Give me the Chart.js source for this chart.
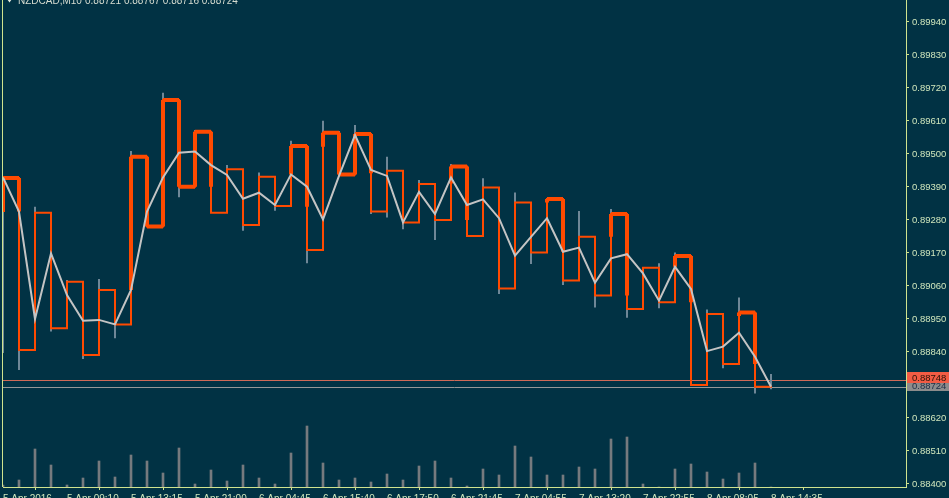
<!DOCTYPE html>
<html>
<head>
<meta charset="utf-8">
<script src="https://cdn.jsdelivr.net/npm/chart.js@4.4.1/dist/chart.umd.min.js"></script>
<style>
    html, body { margin: 0; padding: 0; background: #013244; overflow: hidden; }
</style>
</head>
<body>
<canvas id="chart" width="949" height="498"></canvas>
<script>
'use strict';

// Symbol header
const symbolTitle = 'NZDCAD,M10';
const lastBarOHLC = [0.88721, 0.88767, 0.88716, 0.88724];

// Price levels of the ask / bid lines
const askPrice = 0.88748;
const bidPrice = 0.88724;

// Axis ticks
const priceTicks = [0.884, 0.8851, 0.8862, 0.8873, 0.8884, 0.8895, 0.8906, 0.8917,
    0.8928, 0.8939, 0.895, 0.8961, 0.8972, 0.8983, 0.8994];
const timeTickIdx = [0, 4, 8, 12, 16, 20, 24, 28, 32, 36, 40, 44, 48];
const timeLabels = ['5 Apr 2016', '5 Apr 09:10', '5 Apr 13:15', '5 Apr 21:00', '6 Apr 04:45',
    '6 Apr 15:40', '6 Apr 17:50', '6 Apr 21:45', '7 Apr 04:55', '7 Apr 13:20',
    '7 Apr 22:55', '8 Apr 08:05', '8 Apr 14:35'];

// Close line (gray)
const closes = [0.89422, 0.89308, 0.8895, 0.89169, 0.8903, 0.88944, 0.88947, 0.88932, 0.89047, 0.89308,
    0.89422, 0.89504, 0.89508, 0.89463, 0.8943, 0.89351, 0.89371, 0.8933, 0.89432, 0.89391,
    0.89282, 0.89427, 0.89563, 0.89447, 0.89427, 0.89272, 0.89374, 0.893, 0.89422, 0.8933,
    0.89349, 0.89286, 0.89161, 0.89224, 0.89286, 0.89174, 0.89188, 0.89071, 0.89152, 0.89166,
    0.89102, 0.89011, 0.89124, 0.8905, 0.88843, 0.88858, 0.88904, 0.88824, 0.88724];

// Orange step levels (last one = open of the last bar)
const stepLevels = [0.8942, 0.88847, 0.89304, 0.88919, 0.89074, 0.8883, 0.89047, 0.88932, 0.89491, 0.89258,
    0.8968, 0.89391, 0.89574, 0.89304, 0.89449, 0.89263, 0.89424, 0.89327, 0.89527, 0.8918,
    0.89571, 0.89432, 0.89567, 0.89308, 0.89444, 0.89272, 0.894, 0.8928, 0.89458, 0.89227,
    0.89388, 0.89052, 0.89338, 0.89172, 0.8935, 0.89078, 0.89224, 0.89028, 0.893, 0.88983,
    0.89121, 0.89006, 0.8916, 0.8873, 0.88967, 0.888, 0.88972, 0.88724, 0.88721];

// Thick orange parts (top / bottom per bar)
const thickHigh = [0.8942, 0.8942, null, null, null, null, null, null, 0.89491, 0.89491,
    0.8968, 0.8968, 0.89574, 0.89574, null, null, null, null, 0.89527, 0.89527,
    0.89571, 0.89571, 0.89567, 0.89567, null, null, null, null, 0.89458, 0.89458,
    null, null, null, null, 0.8935, 0.8935, null, null, 0.893, 0.893,
    null, null, 0.8916, 0.8916, null, null, 0.88972, 0.88972, null];
const thickLow = [0.89307, 0.89308, null, null, null, null, null, null, 0.89047, 0.89258,
    0.89258, 0.89391, 0.89391, 0.89391, null, null, null, null, 0.89432, 0.89324,
    0.89524, 0.89432, 0.89432, 0.89436, null, null, null, null, 0.89402, 0.8928,
    null, null, null, null, 0.89338, 0.89174, null, null, 0.89224, 0.89028,
    null, null, 0.89124, 0.89006, null, null, 0.8896, 0.888, null];

// Gray wicks
const wickHigh = [0.8942, 0.8942, 0.89324, 0.89304, 0.8908, 0.89074, 0.89083, 0.89047, 0.8951, null,
    0.89704, 0.8968, 0.8958, null, 0.89463, 0.89449, 0.89438, 0.89424, 0.89544, 0.89527,
    0.89611, 0.89577, 0.89597, 0.89567, 0.89491, 0.89444, 0.89413, 0.894, 0.89467, null,
    0.89419, 0.89388, 0.89372, 0.89338, null, 0.8935, 0.8931, 0.89224, 0.89317, 0.893,
    null, 0.89136, 0.89172, null, 0.88982, 0.88967, 0.89022, 0.88972, 0.88767];
const wickLow = [0.88837, 0.8878, 0.88847, 0.88908, 0.88919, 0.88817, 0.8883, 0.88886, 0.88932, null,
    0.89258, 0.89356, 0.89391, null, 0.89304, 0.89244, 0.89263, 0.89311, 0.89327, 0.89136,
    0.8918, 0.89432, 0.89432, 0.893, 0.89288, 0.89249, 0.89272, 0.89213, 0.8928, null,
    0.89227, 0.89033, 0.89052, 0.89133, null, 0.89063, 0.89078, 0.88988, 0.89028, 0.88954,
    null, 0.88986, 0.89006, null, 0.8873, 0.88786, 0.888, 0.88702, 0.88716];

// Tick volumes
const volumes = [8, 28, 152, 88, 8, 36, 104, 40, 128, 104, 56, 156, 12, 68, 24, 88, 36, 12, 136, 244,
    96, 28, 36, 20, 52, 28, 84, 104, 36, 4, 72, 48, 164, 120, 48, 48, 80, 72, 192, 200,
    12, 0, 72, 92, 60, 32, 56, 96, 0];

const BG = '#013244';
const AXIS = '#cfe38e';
const TEXT = '#cfe6bc';
const ORANGE = '#ff4a00';
const FONT = 'Liberation Sans';

// Vertical segments separated by gaps
function verticals(hi, lo) {
    const out = [];
    hi.forEach((h, k) => {
        if (h === null || lo[k] === null) return;
        out.push({ x: k, y: h }, { x: k, y: lo[k] }, { x: k, y: null });
    });
    return out;
}

// Thick tops/bottoms: level covered by thick parts on both sides
function thickLevels() {
    const out = [];
    const inside = (v, k) => thickHigh[k] !== null && v <= thickHigh[k] + 2e-5 && v >= thickLow[k] - 2e-5;
    for (let k = 0; k < stepLevels.length - 1; k++) {
        const v = stepLevels[k];
        if (inside(v, k) && inside(v, k + 1)) {
            out.push({ x: k, y: v }, { x: k + 1, y: v }, { x: k, y: null });
        }
    }
    return out;
}

const backgroundPlugin = {
    id: 'bg',
    beforeDraw: (chart) => {
        const ctx = chart.ctx;
        ctx.save();
        ctx.fillStyle = BG;
        ctx.fillRect(0, 0, chart.width, chart.height);
        ctx.restore();
    },
    beforeDatasetsDraw: (chart) => {
        // ask / bid lines
        const ctx = chart.ctx;
        const y = chart.scales.y;
        const area = chart.chartArea;
        ctx.save();
        ctx.lineWidth = 1;
        [[askPrice, '#cf6a58'], [bidPrice, '#979797']].forEach(([p, c]) => {
            const py = Math.round(y.getPixelForValue(p)) + 0.5;
            ctx.strokeStyle = c;
            ctx.beginPath();
            ctx.moveTo(area.left, py);
            ctx.lineTo(area.right, py);
            ctx.stroke();
        });
        ctx.restore();
    },
    afterDraw: (chart) => {
        const ctx = chart.ctx;
        const y = chart.scales.y;
        const area = chart.chartArea;
        ctx.save();

        // left frame line
        ctx.strokeStyle = AXIS;
        ctx.lineWidth = 1;
        ctx.beginPath();
        ctx.moveTo(2.5, 0);
        ctx.lineTo(2.5, area.bottom);
        ctx.stroke();

        // price boxes
        ctx.font = `9.5px "${FONT}"`;
        ctx.textBaseline = 'middle';
        ctx.textAlign = 'left';
        const w = chart.width - area.right - 1;
        const askY = Math.round(y.getPixelForValue(askPrice));
        const bidY = Math.round(y.getPixelForValue(bidPrice));
        ctx.fillStyle = '#f25c44';
        ctx.fillRect(area.right + 1, askY - 8, w, 11);
        ctx.fillStyle = '#2a1208';
        ctx.fillText(askPrice.toFixed(5), area.right + 6, askY - 2);
        ctx.fillStyle = '#8c8c8c';
        ctx.fillRect(area.right + 1, bidY - 4, w, 8);
        ctx.fillStyle = '#1c2c44';
        ctx.fillText(bidPrice.toFixed(5), area.right + 6, bidY - 0.5);

        // header
        ctx.fillStyle = '#e8ece0';
        ctx.beginPath();
        ctx.moveTo(7, -1);
        ctx.lineTo(12, -1);
        ctx.lineTo(9.5, 2.5);
        ctx.closePath();
        ctx.fill();
        ctx.fillStyle = '#d6dcd0';
        ctx.font = `10px "${FONT}"`;
        ctx.textBaseline = 'alphabetic';
        ctx.fillText(symbolTitle, 18, 4);
        ctx.fillText(lastBarOHLC.map(v => v.toFixed(5)).join(' '), 85, 4);
        ctx.restore();
    }
};

const ctx = document.getElementById('chart').getContext('2d');
new Chart(ctx, {
    type: 'line',
    data: {
        datasets: [
            {
                // close line
                data: closes.map((v, k) => ({ x: k, y: v })),
                borderColor: '#c4c4c4',
                borderWidth: 2,
                pointRadius: 0,
                tension: 0,
                order: 0
            },
            {
                // thick verticals
                data: verticals(thickHigh, thickLow),
                borderColor: ORANGE,
                borderWidth: 4,
                pointRadius: 0,
                spanGaps: false,
                clip: 0,
                order: 1
            },
            {
                // thick horizontals
                data: thickLevels(),
                borderColor: ORANGE,
                borderWidth: 4,
                pointRadius: 0,
                spanGaps: false,
                clip: 0,
                order: 1
            },
            {
                // thin orange steps
                data: stepLevels.map((v, k) => ({ x: k, y: v })),
                borderColor: ORANGE,
                borderWidth: 2,
                pointRadius: 0,
                stepped: 'before',
                order: 2
            },
            {
                // wicks
                data: verticals(wickHigh, wickLow),
                borderColor: '#6f8797',
                borderWidth: 2,
                pointRadius: 0,
                spanGaps: false,
                order: 3
            },
            {
                type: 'bar',
                data: volumes.map((v, k) => ({ x: k, y: v })),
                yAxisID: 'yVol',
                backgroundColor: '#767a7e',
                barThickness: 2,
                grouped: false,
                order: 4
            }
        ]
    },
    options: {
        responsive: false,
        animation: false,
        events: [],
        layout: { padding: { left: 3, top: 0, right: 0, bottom: 0 } },
        scales: {
            x: {
                type: 'linear',
                position: 'bottom',
                min: 0,
                max: 56.4375,
                offset: false,
                afterBuildTicks: (scale) => {
                    scale.ticks = timeTickIdx.map(v => ({ value: v }));
                },
                afterFit: (scale) => {
                    scale.height = 11;
                    scale.paddingLeft = 0;
                    scale.paddingRight = 0;
                },
                ticks: {
                    autoSkip: false,
                    maxRotation: 0,
                    align: 'start',
                    padding: 3,
                    color: TEXT,
                    font: { family: FONT, size: 10 },
                    callback: (value) => timeLabels[timeTickIdx.indexOf(value)]
                },
                grid: {
                    display: true,
                    drawOnChartArea: false,
                    drawTicks: true,
                    tickLength: 3,
                    color: AXIS
                },
                border: { display: true, color: AXIS }
            },
            y: {
                position: 'right',
                min: 0.8839,
                max: 0.9001333,
                afterBuildTicks: (scale) => {
                    scale.ticks = priceTicks.map(v => ({ value: v }));
                },
                afterFit: (scale) => {
                    scale.width = 43;
                    scale.paddingTop = 0;
                    scale.paddingBottom = 0;
                },
                ticks: {
                    autoSkip: false,
                    padding: 3,
                    color: TEXT,
                    font: { family: FONT, size: 9.5 },
                    callback: (value) => Number(value).toFixed(5)
                },
                grid: {
                    display: true,
                    drawOnChartArea: false,
                    drawTicks: true,
                    tickLength: 3,
                    color: AXIS
                },
                border: { display: true, color: AXIS }
            },
            yVol: {
                display: false,
                min: 0,
                max: 1948
            }
        },
        plugins: {
            legend: { display: false },
            tooltip: { enabled: false }
        }
    },
    plugins: [backgroundPlugin]
});
</script>
</body>
</html>
